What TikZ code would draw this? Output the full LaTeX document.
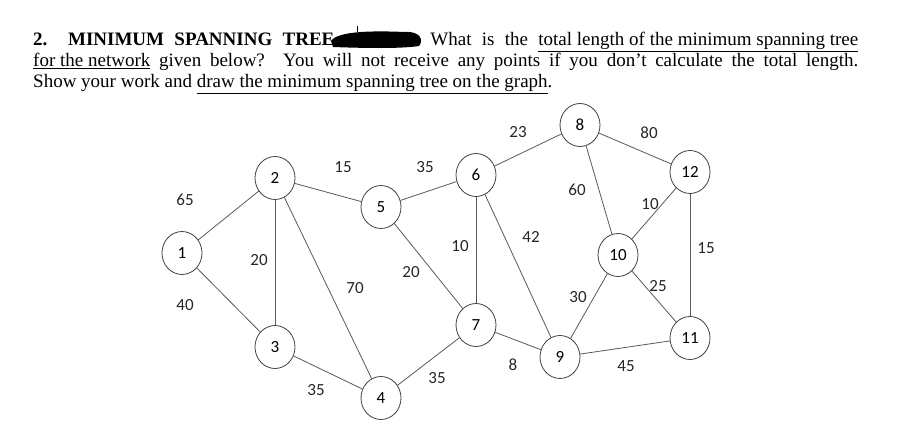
\documentclass[tikz,border=0pt]{standalone}
\usepackage{fontspec}
\usetikzlibrary{shapes.geometric}
\setmainfont{Liberation Serif}
\newfontfamily\numfont{Carlito}
\begin{document}
\begin{tikzpicture}[x=1pt,y=-1pt,
  vtx/.style={ellipse,draw=black!75,line width=0.8pt,fill=white,minimum width=40pt,minimum height=43pt,inner sep=0pt,font=\numfont\fontsize{17}{17}\selectfont},
  edge/.style={draw=black!65,line width=0.8pt},
  wlab/.style={font=\numfont\fontsize{17}{17}\selectfont,text=black!85,inner sep=0pt}]
\useasboundingbox (0,0) rectangle (910,438);
% header text
\node[anchor=base west,inner sep=0pt,font=\fontsize{19}{21}\selectfont] (l1) at (33,46)
  {\makebox[825pt][s]{\textbf{2.\ \ MINIMUM SPANNING TREE}\hspace{96pt}What is the \underline{total length of the minimum spanning tree}}};
\node[anchor=base west,inner sep=0pt,font=\fontsize{19}{21}\selectfont] (l2) at (33,67)
  {\makebox[825pt][s]{\underline{for the network} given below? You will not receive any points if you don't calculate the total length.}};
\node[anchor=base west,inner sep=0pt,font=\fontsize{19}{21}\selectfont] (l3) at (33,88)
  {Show your work and \underline{draw the minimum spanning tree on the graph}.};
% redaction blob
\fill[black] (331,41) .. controls (338,30) and (380,31) .. (405,32) .. controls (420,31) and (424,40) .. (419,46) .. controls (400,49) and (360,48) .. (333,47) -- cycle;
\draw[black,line width=1pt] (357,32) -- (357,26);
% vertices
\node[vtx] (n1) at (182,253) {1};
\node[vtx] (n2) at (275,178) {2};
\node[vtx] (n3) at (275,347) {3};
\node[vtx] (n4) at (381,398) {4};
\node[vtx] (n5) at (381,207) {5};
\node[vtx] (n6) at (476,175) {6};
\node[vtx] (n7) at (476,325) {7};
\node[vtx] (n8) at (580,125) {8};
\node[vtx] (n9) at (560,357) {9};
\node[vtx] (n10) at (618,255) {10};
\node[vtx] (n11) at (690,338) {11};
\node[vtx] (n12) at (690,172) {12};
% edges
\foreach \a/\b in {1/2,1/3,2/3,2/4,2/5,3/4,5/6,5/7,6/7,6/8,6/9,4/7,7/9,8/10,8/12,9/10,9/11,10/11,10/12,11/12}
  \draw[edge] (n\a) -- (n\b);
% weights
\node[wlab] (w1) at (185,200) {65};
\node[wlab] (w2) at (185,305) {40};
\node[wlab] (w3) at (259,260) {20};
\node[wlab] (w4) at (355,288) {70};
\node[wlab] (w5) at (343,167) {15};
\node[wlab] (w6) at (425,167) {35};
\node[wlab] (w7) at (411,272) {20};
\node[wlab] (w8) at (460,246) {10};
\node[wlab] (w9) at (437,378) {35};
\node[wlab] (w10) at (316,390) {35};
\node[wlab] (w11) at (518,132) {23};
\node[wlab] (w12) at (577,190) {60};
\node[wlab] (w13) at (531,237) {42};
\node[wlab] (w14) at (578,297) {30};
\node[wlab] (w15) at (513,365) {8};
\node[wlab] (w16) at (626,366) {45};
\node[wlab] (w17) at (650,204) {10};
\node[wlab] (w18) at (658,286) {25};
\node[wlab] (w19) at (649,133) {80};
\node[wlab] (w20) at (706,248) {15};
\end{tikzpicture}
\end{document}
